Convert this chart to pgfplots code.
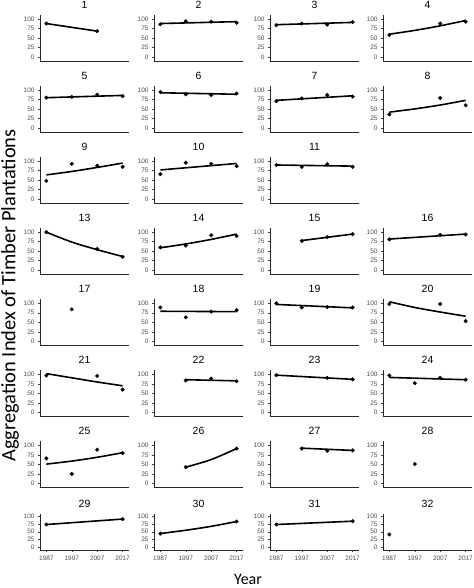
\documentclass[border=0pt]{standalone}
\usepackage{fontspec}
\setmainfont{Liberation Sans}
\newfontfamily\labelfont{Carlito}
\usepackage{pgfplots}
\pgfplotsset{compat=1.18}
\definecolor{ticktext}{HTML}{4D4D4D}

\pgfplotsset{
  panel/.style={
    scale only axis, width=89bp, height=46bp,
    anchor=south west,
    xmin=1984.5, xmax=2019.5, ymin=-10.5, ymax=110.5,
    axis lines=left,
    axis line style={-, draw=black!85, line width=0.7bp},
    ytick={0,25,50,75,100},
    xtick=\empty,
    tick align=outside, major tick length=2bp,
    every tick/.style={draw=black!75, line width=0.5bp},
    tick label style={font=\fontsize{6.5}{7}\selectfont, text=ticktext},
    /pgf/number format/assume math mode=true,
    /pgf/number format/1000 sep={},
    clip=false,
    every axis title/.style={at={(0.5,1)}, anchor=base, yshift=6.5bp,
      inner sep=0pt, font=\fontsize{10.5}{12}\selectfont},
  },
  bottomrow/.style={height=36.5bp, xtick={1987,1997,2007,2017}},
  pts/.style={only marks, mark=*, mark size=1.8bp, black},
  fit/.style={no marks, black, line width=1.6bp, smooth},
}

% one facet: [extra options]{x}{y}{title}{plots}
\newcommand\pnl[5][]{%
  \begin{axis}[panel, #1, at={(#2,#3)}, title={#4}]
    #5
  \end{axis}}

\begin{document}
\begin{tikzpicture}
\useasboundingbox (0,0) rectangle (474bp,588bp);

% row 1
\pnl{40bp}{527bp}{1}{
  \addplot[fit] coordinates {(1987,88) (2007,68)};
  \addplot[pts] coordinates {(1987,88) (2007,68)};}
\pnl{154bp}{527bp}{2}{
  \addplot[fit] coordinates {(1987,88) (2017,93)};
  \addplot[pts] coordinates {(1987,86) (1997,94) (2007,93) (2017,90)};}
\pnl{270bp}{527bp}{3}{
  \addplot[fit] coordinates {(1987,85) (2017,91)};
  \addplot[pts] coordinates {(1987,84) (1997,88) (2007,85) (2017,92)};}
\pnl{383bp}{527bp}{4}{
  \addplot[fit] coordinates {(1987,60) (1997,70) (2007,82) (2017,96)};
  \addplot[pts] coordinates {(1987,58) (2007,88) (2017,93)};}

% row 2
\pnl{40bp}{455.9bp}{5}{
  \addplot[fit] coordinates {(1987,80) (2017,86)};
  \addplot[pts] coordinates {(1987,80) (1997,82) (2007,88) (2017,84)};}
\pnl{154bp}{455.9bp}{6}{
  \addplot[fit] coordinates {(1987,93) (2017,89)};
  \addplot[pts] coordinates {(1987,95) (1997,89) (2007,87) (2017,91)};}
\pnl{270bp}{455.9bp}{7}{
  \addplot[fit] coordinates {(1987,73) (2017,85)};
  \addplot[pts] coordinates {(1987,71) (1997,78) (2007,87) (2017,83)};}
\pnl{383bp}{455.9bp}{8}{
  \addplot[fit] coordinates {(1987,42) (1997,50.5) (2007,60.7) (2017,73)};
  \addplot[pts] coordinates {(1987,36) (2007,79) (2017,60)};}

% row 3
\pnl{40bp}{384.8bp}{9}{
  \addplot[fit] coordinates {(1987,64) (1997,73) (2007,83.6) (2017,95)};
  \addplot[pts] coordinates {(1987,48) (1997,93) (2007,88) (2017,85)};}
\pnl{154bp}{384.8bp}{10}{
  \addplot[fit] coordinates {(1987,77) (2017,94)};
  \addplot[pts] coordinates {(1987,66) (1997,96) (2007,93) (2017,87)};}
\pnl{270bp}{384.8bp}{11}{
  \addplot[fit] coordinates {(1987,90) (2017,87)};
  \addplot[pts] coordinates {(1987,90) (1997,85) (2007,92) (2017,85)};}

% row 4
\pnl{40bp}{313.8bp}{13}{
  \addplot[fit] coordinates {(1987,100) (1997,74) (2007,54) (2017,36)};
  \addplot[pts] coordinates {(1987,100) (2007,56) (2017,35)};}
\pnl{154bp}{313.8bp}{14}{
  \addplot[fit] coordinates {(1987,59) (1997,69) (2007,81) (2017,95)};
  \addplot[pts] coordinates {(1987,60) (1997,65) (2007,92) (2017,90)};}
\pnl{270bp}{313.8bp}{15}{
  \addplot[fit] coordinates {(1997,78) (2017,95)};
  \addplot[pts] coordinates {(1997,77) (2007,87) (2017,95)};}
\pnl{383bp}{313.8bp}{16}{
  \addplot[fit] coordinates {(1987,82) (2017,95)};
  \addplot[pts] coordinates {(1987,81) (2007,93) (2017,94)};}

% row 5
\pnl{40bp}{242.7bp}{17}{
  \addplot[pts] coordinates {(1997,84)};}
\pnl{154bp}{242.7bp}{18}{
  \addplot[fit] coordinates {(1987,79) (2017,78)};
  \addplot[pts] coordinates {(1987,89) (1997,63) (2007,78) (2017,82)};}
\pnl{270bp}{242.7bp}{19}{
  \addplot[fit] coordinates {(1987,97) (2017,88)};
  \addplot[pts] coordinates {(1987,100) (1997,89) (2007,90) (2017,89)};}
\pnl{383bp}{242.7bp}{20}{
  \addplot[fit] coordinates {(1987,104) (1997,89) (2007,77) (2017,66)};
  \addplot[pts] coordinates {(1987,98) (2007,98) (2017,53)};}

% row 6
\pnl{40bp}{171.6bp}{21}{
  \addplot[fit] coordinates {(1987,102) (1997,91) (2007,80) (2017,70)};
  \addplot[pts] coordinates {(1987,97) (2007,96) (2017,60)};}
\pnl{154bp}{171.6bp}{22}{
  \addplot[fit] coordinates {(1997,86) (2017,83)};
  \addplot[pts] coordinates {(1997,84) (2007,89) (2017,82)};}
\pnl{270bp}{171.6bp}{23}{
  \addplot[fit] coordinates {(1987,98) (2017,87)};
  \addplot[pts] coordinates {(1987,98) (2007,91) (2017,87)};}
\pnl{383bp}{171.6bp}{24}{
  \addplot[fit] coordinates {(1987,92) (2017,86)};
  \addplot[pts] coordinates {(1987,97) (1997,77) (2007,91) (2017,86)};}

% row 7
\pnl{40bp}{100.5bp}{25}{
  \addplot[fit] coordinates {(1987,51) (1997,59) (2007,69) (2017,81)};
  \addplot[pts] coordinates {(1987,66) (1997,25) (2007,89) (2017,80)};}
\pnl{154bp}{100.5bp}{26}{
  \addplot[fit] coordinates {(1997,43) (2007,63) (2017,92)};
  \addplot[pts] coordinates {(1997,43) (2017,92)};}
\pnl{270bp}{100.5bp}{27}{
  \addplot[fit] coordinates {(1997,93) (2017,87)};
  \addplot[pts] coordinates {(1997,92) (2007,86) (2017,87)};}
\pnl{383bp}{100.5bp}{28}{
  \addplot[pts] coordinates {(1997,51)};}

% row 8
\pnl[bottomrow]{40bp}{38bp}{29}{
  \addplot[fit] coordinates {(1987,74) (2017,92)};
  \addplot[pts] coordinates {(1987,74) (2017,92)};}
\pnl[bottomrow]{154bp}{38bp}{30}{
  \addplot[fit] coordinates {(1987,44) (1997,55) (2007,68) (2017,84)};
  \addplot[pts] coordinates {(1987,44) (2017,84)};}
\pnl[bottomrow]{270bp}{38bp}{31}{
  \addplot[fit] coordinates {(1987,74) (2017,85)};
  \addplot[pts] coordinates {(1987,74) (2017,85)};}
\pnl[bottomrow]{383bp}{38bp}{32}{
  \addplot[pts] coordinates {(1987,41)};}

\node[rotate=90, font=\labelfont\fontsize{20.5}{24}\selectfont]
  at (10bp,292.5bp) {Aggregation Index of Timber Plantations};
\node[anchor=base, font=\labelfont\fontsize{16}{19}\selectfont]
  at (248bp,4bp) {Year};
\end{tikzpicture}
\end{document}
